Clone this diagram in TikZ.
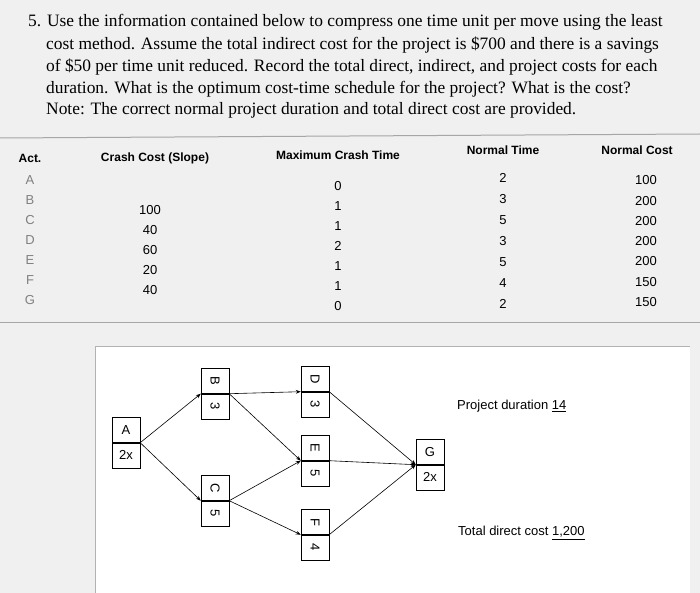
\documentclass[tikz,border=0pt]{standalone}
\usepackage{fontspec}
\usetikzlibrary{arrows.meta}
\setmainfont{Liberation Serif}
\newfontfamily\tabfont{Liberation Sans}
\begin{document}
\begin{tikzpicture}[x=1pt,y=-1pt,
  para/.style={anchor=west,inner sep=0,font=\fontsize{17.4}{19}\selectfont},
  th/.style={inner sep=0,font=\tabfont\bfseries\fontsize{12}{14}\selectfont},
  td/.style={inner sep=0,font=\tabfont\fontsize{13}{15}\selectfont},
  half/.style={draw,minimum width=28pt,minimum height=25pt,inner sep=0},
  lab/.style={inner sep=0,font=\tabfont\fontsize{13}{15}\selectfont},
  rlab/.style={lab,rotate=-90},
  arr/.style={-{Stealth[length=5pt]},line width=0.6pt}]
\useasboundingbox (0,0) rectangle (700,593);
\fill[gray!12] (0,0) rectangle (700,593);
\node[para] at (28,22) {5. Use the information contained below to compress one time unit per move using the least};
\node[para] at (46,45) {cost method. Assume the total indirect cost for the project is \$700 and there is a savings};
\node[para] at (46,67) {of \$50 per time unit reduced. Record the total direct, indirect, and project costs for each};
\node[para] at (46,89) {duration. What is the optimum cost-time schedule for the project? What is the cost?};
\node[para] at (46,110) {Note: The correct normal project duration and total direct cost are provided.};
\draw[gray!70,line width=1pt] (0,138) -- (700,134);
\draw[gray!70,line width=1pt] (0,322) -- (700,322);
\node[th] (h1) at (30,158) {Act.};
\node[th] (h2) at (155,158) {Crash Cost (Slope)};
\node[th] (h3) at (338,155) {Maximum Crash Time};
\node[th] (h4) at (503,150) {Normal Time};
\node[th] (h5) at (637,150) {Normal Cost};
\foreach \l [count=\i] in {A,B,C,D,E,F,G}
  \node[td,text=gray] (a\i) at (30,{160+20*\i}) {\l};
\foreach \v [count=\i] in {100,40,60,20,40}
  \node[td] (c\i) at (150,{190+20*\i}) {\v};
\foreach \v [count=\i] in {0,1,1,2,1,1,0}
  \node[td] (m\i) at (338,{166+20*\i}) {\v};
\foreach \v [count=\i] in {2,3,5,3,5,4,2}
  \node[td] (t\i) at (503,{157+21*\i}) {\v};
\foreach \v [count=\i] in {100,200,200,200,200,150,150}
  \node[td] (n\i) at (646,{160+20.3*\i}) {\v};
\fill[white] (95,346) rectangle (690,593);
\draw[gray!60] (95,346) -- (690,346);
\draw[gray!60] (95,346) -- (95,593);
% boxes
\node[half] (At) at (126,430) {};
\node[half,anchor=north] (Ab) at (At.south) {};
\node[half] (Bt) at (215,381) {};
\node[half,anchor=north] (Bb) at (Bt.south) {};
\node[half] (Dt) at (315,379) {};
\node[half,anchor=north] (Db) at (Dt.south) {};
\node[half] (Et) at (315,448) {};
\node[half,anchor=north] (Eb) at (Et.south) {};
\node[half] (Ct) at (215,488) {};
\node[half,anchor=north] (Cb) at (Ct.south) {};
\node[half] (Ft) at (315,522) {};
\node[half,anchor=north] (Fb) at (Ft.south) {};
\node[half] (Gt) at (430,452) {};
\node[half,anchor=north] (Gb) at (Gt.south) {};
% labels
\node[lab] (lA) at (At) {A};
\node[lab] (lA2) at (Ab) {2x};
\node[rlab] (lB) at (Bt) {B};
\node[rlab] (lB2) at (Bb) {3};
\node[rlab] (lD) at (Dt) {D};
\node[rlab] (lD2) at (Db) {3};
\node[rlab] (lE) at (Et) {E};
\node[rlab] (lE2) at (Eb) {5};
\node[rlab] (lC) at (Ct) {C};
\node[rlab] (lC2) at (Cb) {5};
\node[rlab] (lF) at (Ft) {F};
\node[rlab] (lF2) at (Fb) {4};
\node[lab] (lG) at (Gt) {G};
\node[lab] (lG2) at (Gb) {2x};
\draw[arr] (At.south east) -- (Bt.south west);
\draw[arr] (At.south east) -- (Ct.south west);
\draw[arr] (Bt.south east) -- (Dt.south west);
\draw[arr] (Bt.south east) -- (Et.south west);
\draw[arr] (Ct.south east) -- (Et.south west);
\draw[arr] (Ct.south east) -- (Ft.south west);
\draw[arr] (Dt.south east) -- (Gt.south west);
\draw[arr] (Et.south east) -- (Gt.south west);
\draw[arr] (Ft.south east) -- (Gt.south west);
\node[td,anchor=west] (pd) at (457,406) {Project duration \underline{14}};
\node[td,anchor=west] (tc) at (458,533) {Total direct cost \underline{1,200}};
\end{tikzpicture}
\end{document}
